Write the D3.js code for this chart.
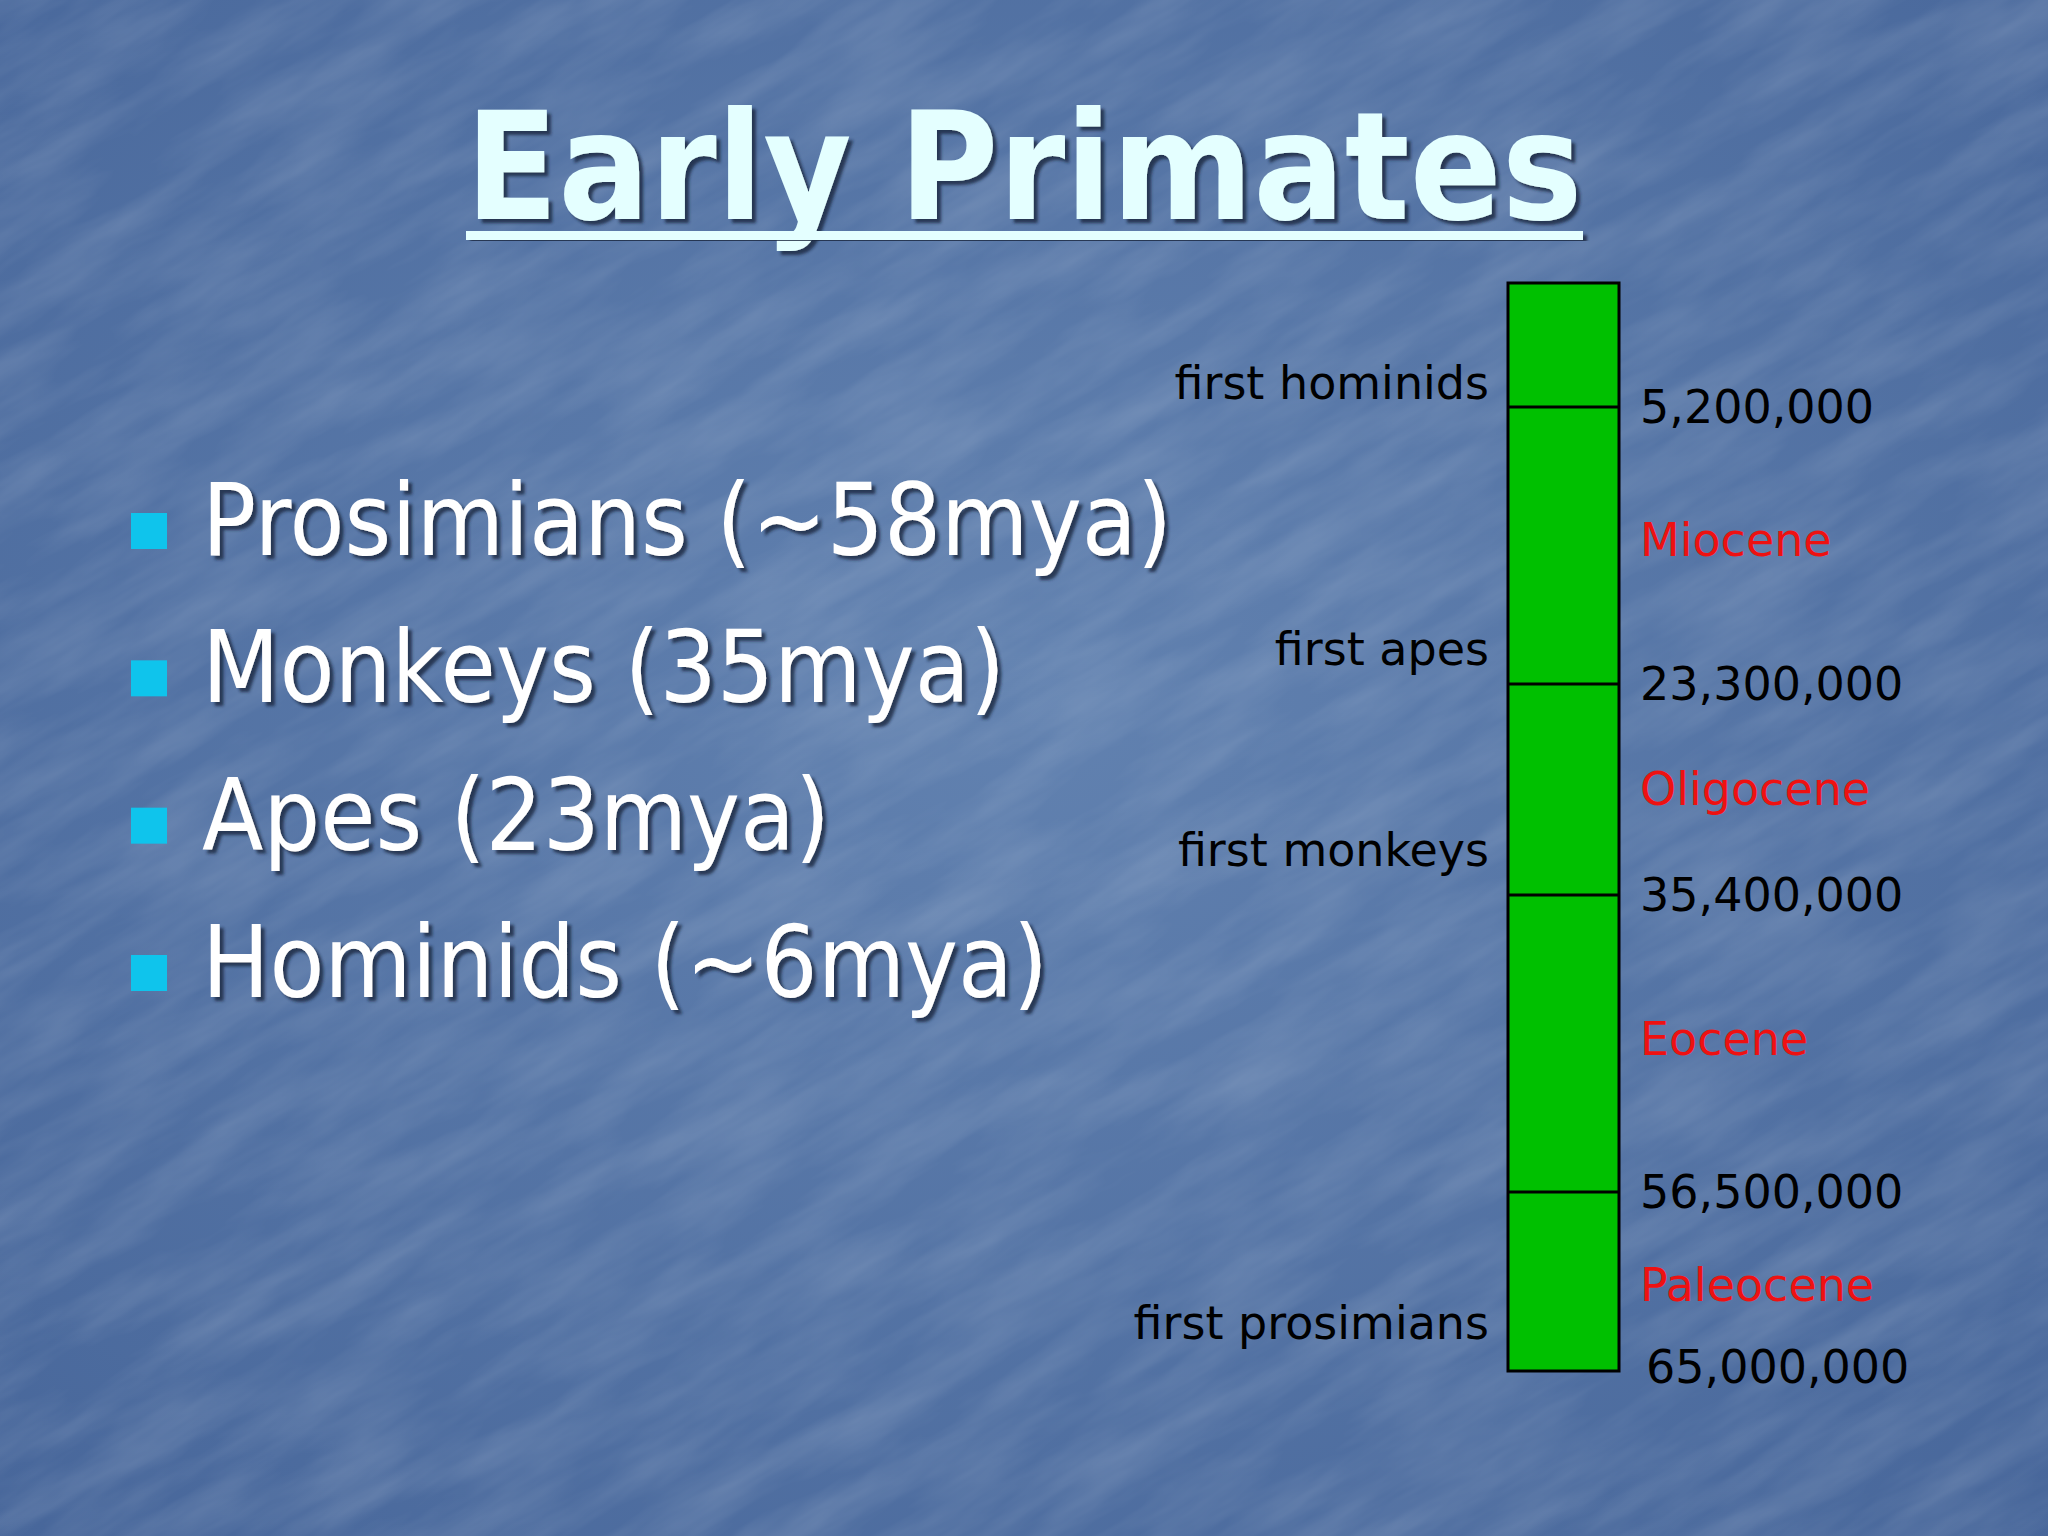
<!DOCTYPE html>
<html><head><meta charset="utf-8">
<script src="https://cdn.jsdelivr.net/npm/d3@7"></script>
<style>html,body{margin:0;padding:0;background:#4e6e9c}</style>
</head><body>
<script>
const boundaries = [0, 5.2, 23.3, 35.4, 56.5, 65]; // million years ago
const boundaryLabels = ["", "5,200,000", "23,300,000", "35,400,000", "56,500,000", "65,000,000"];
const epochs = ["Miocene", "Oligocene", "Eocene", "Paleocene"];
const epochMid = [13.9, 29.3, 45.6, 60.9];
const events = ["first hominids", "first apes", "first monkeys", "first prosimians"];
const eventAge = [4.2, 21.0, 32.8, 62.7];
const bullets = ["Prosimians (~58mya)", "Monkeys (35mya)", "Apes (23mya)", "Hominids (~6mya)"];
const bulletWidths = [970, 803, 628, 846];

const W = 2048, H = 1536;
const svg = d3.select("body").append("svg").attr("width", W).attr("height", H);
const defs = svg.append("defs");
const g = defs.append("radialGradient").attr("id","bg").attr("cx","50%").attr("cy","45%").attr("r","75%");
g.append("stop").attr("offset","0%").attr("stop-color","#6282b0");
g.append("stop").attr("offset","100%").attr("stop-color","#47669a");
const f = defs.append("filter").attr("id","sh");
f.append("feDropShadow").attr("dx",4).attr("dy",4).attr("stdDeviation",1.5).attr("flood-color","#1a2640").attr("flood-opacity",0.8);
const tex = defs.append("filter").attr("id","tex");
tex.append("feTurbulence").attr("type","fractalNoise").attr("baseFrequency","0.006 0.03").attr("numOctaves",4).attr("seed",4);
tex.append("feColorMatrix").attr("values","0 0 0 0 0.85  0 0 0 0 0.9  0 0 0 0 0.95  0 0 0 0.25 -0.08");
svg.append("rect").attr("width",W).attr("height",H).attr("fill","url(#bg)");
svg.append("rect").attr("filter","url(#tex)").attr("transform","rotate(-30 1024 768)").attr("x",-600).attr("y",-600).attr("width",W+1200).attr("height",H+1200);

// title
svg.append("text").attr("x",1024).attr("y",219).attr("text-anchor","middle")
  .attr("font-family","DejaVu Sans").attr("font-weight","bold").attr("font-size",150)
  .attr("fill","#e4ffff").attr("filter","url(#sh)").attr("textLength",1117).attr("lengthAdjust","spacingAndGlyphs")
  .text("Early Primates");
svg.append("rect").attr("x",1024-558).attr("y",231).attr("width",1117).attr("height",9).attr("fill","#e4ffff").attr("filter","url(#sh)");

// bullets
const by = d3.scalePoint().domain(bullets).range([555, 997]);
bullets.forEach((b,i)=>{
  svg.append("rect").attr("x",131).attr("y",by(b)-42).attr("width",36).attr("height",36).attr("fill","#0fc4ec");
  svg.append("text").attr("x",202).attr("y",by(b)).attr("font-family","DejaVu Sans").attr("font-size",100)
    .attr("fill","#ffffff").attr("filter","url(#sh)").attr("textLength",bulletWidths[i]).attr("lengthAdjust","spacingAndGlyphs").text(b);
});

// timeline
const y = d3.scaleLinear().domain(boundaries).range([283, 407, 684, 895, 1192, 1371]);
const x0 = 1508, x1 = 1619;
svg.append("rect").attr("x",x0).attr("y",y(0)).attr("width",x1-x0).attr("height",y(65)-y(0))
  .attr("fill","#00c000").attr("stroke","#000").attr("stroke-width",3);
boundaries.slice(1,-1).forEach(b=>{
  svg.append("line").attr("x1",x0).attr("x2",x1).attr("y1",y(b)).attr("y2",y(b)).attr("stroke","#000").attr("stroke-width",3);
});
const font = "DejaVu Sans";
const fs = 46;
boundaryLabels.forEach((l,i)=>{
  if(!l) return;
  svg.append("text").attr("x", i===5 ? 1646 : 1640).attr("y", y(boundaries[i]) + (i===5 ? 12 : 16))
    .attr("font-family",font).attr("font-size",fs).attr("fill","#000").text(l);
});
epochs.forEach((e,i)=>{
  svg.append("text").attr("x",1640).attr("y",y(epochMid[i])+16).attr("font-family",font)
    .attr("font-size",fs).attr("fill","#ee1111").text(e);
});
events.forEach((e,i)=>{
  svg.append("text").attr("x",1489).attr("y",y(eventAge[i])+16).attr("text-anchor","end")
    .attr("font-family",font).attr("font-size",fs).attr("fill","#000").text(e);
});
</script>
</body></html>
